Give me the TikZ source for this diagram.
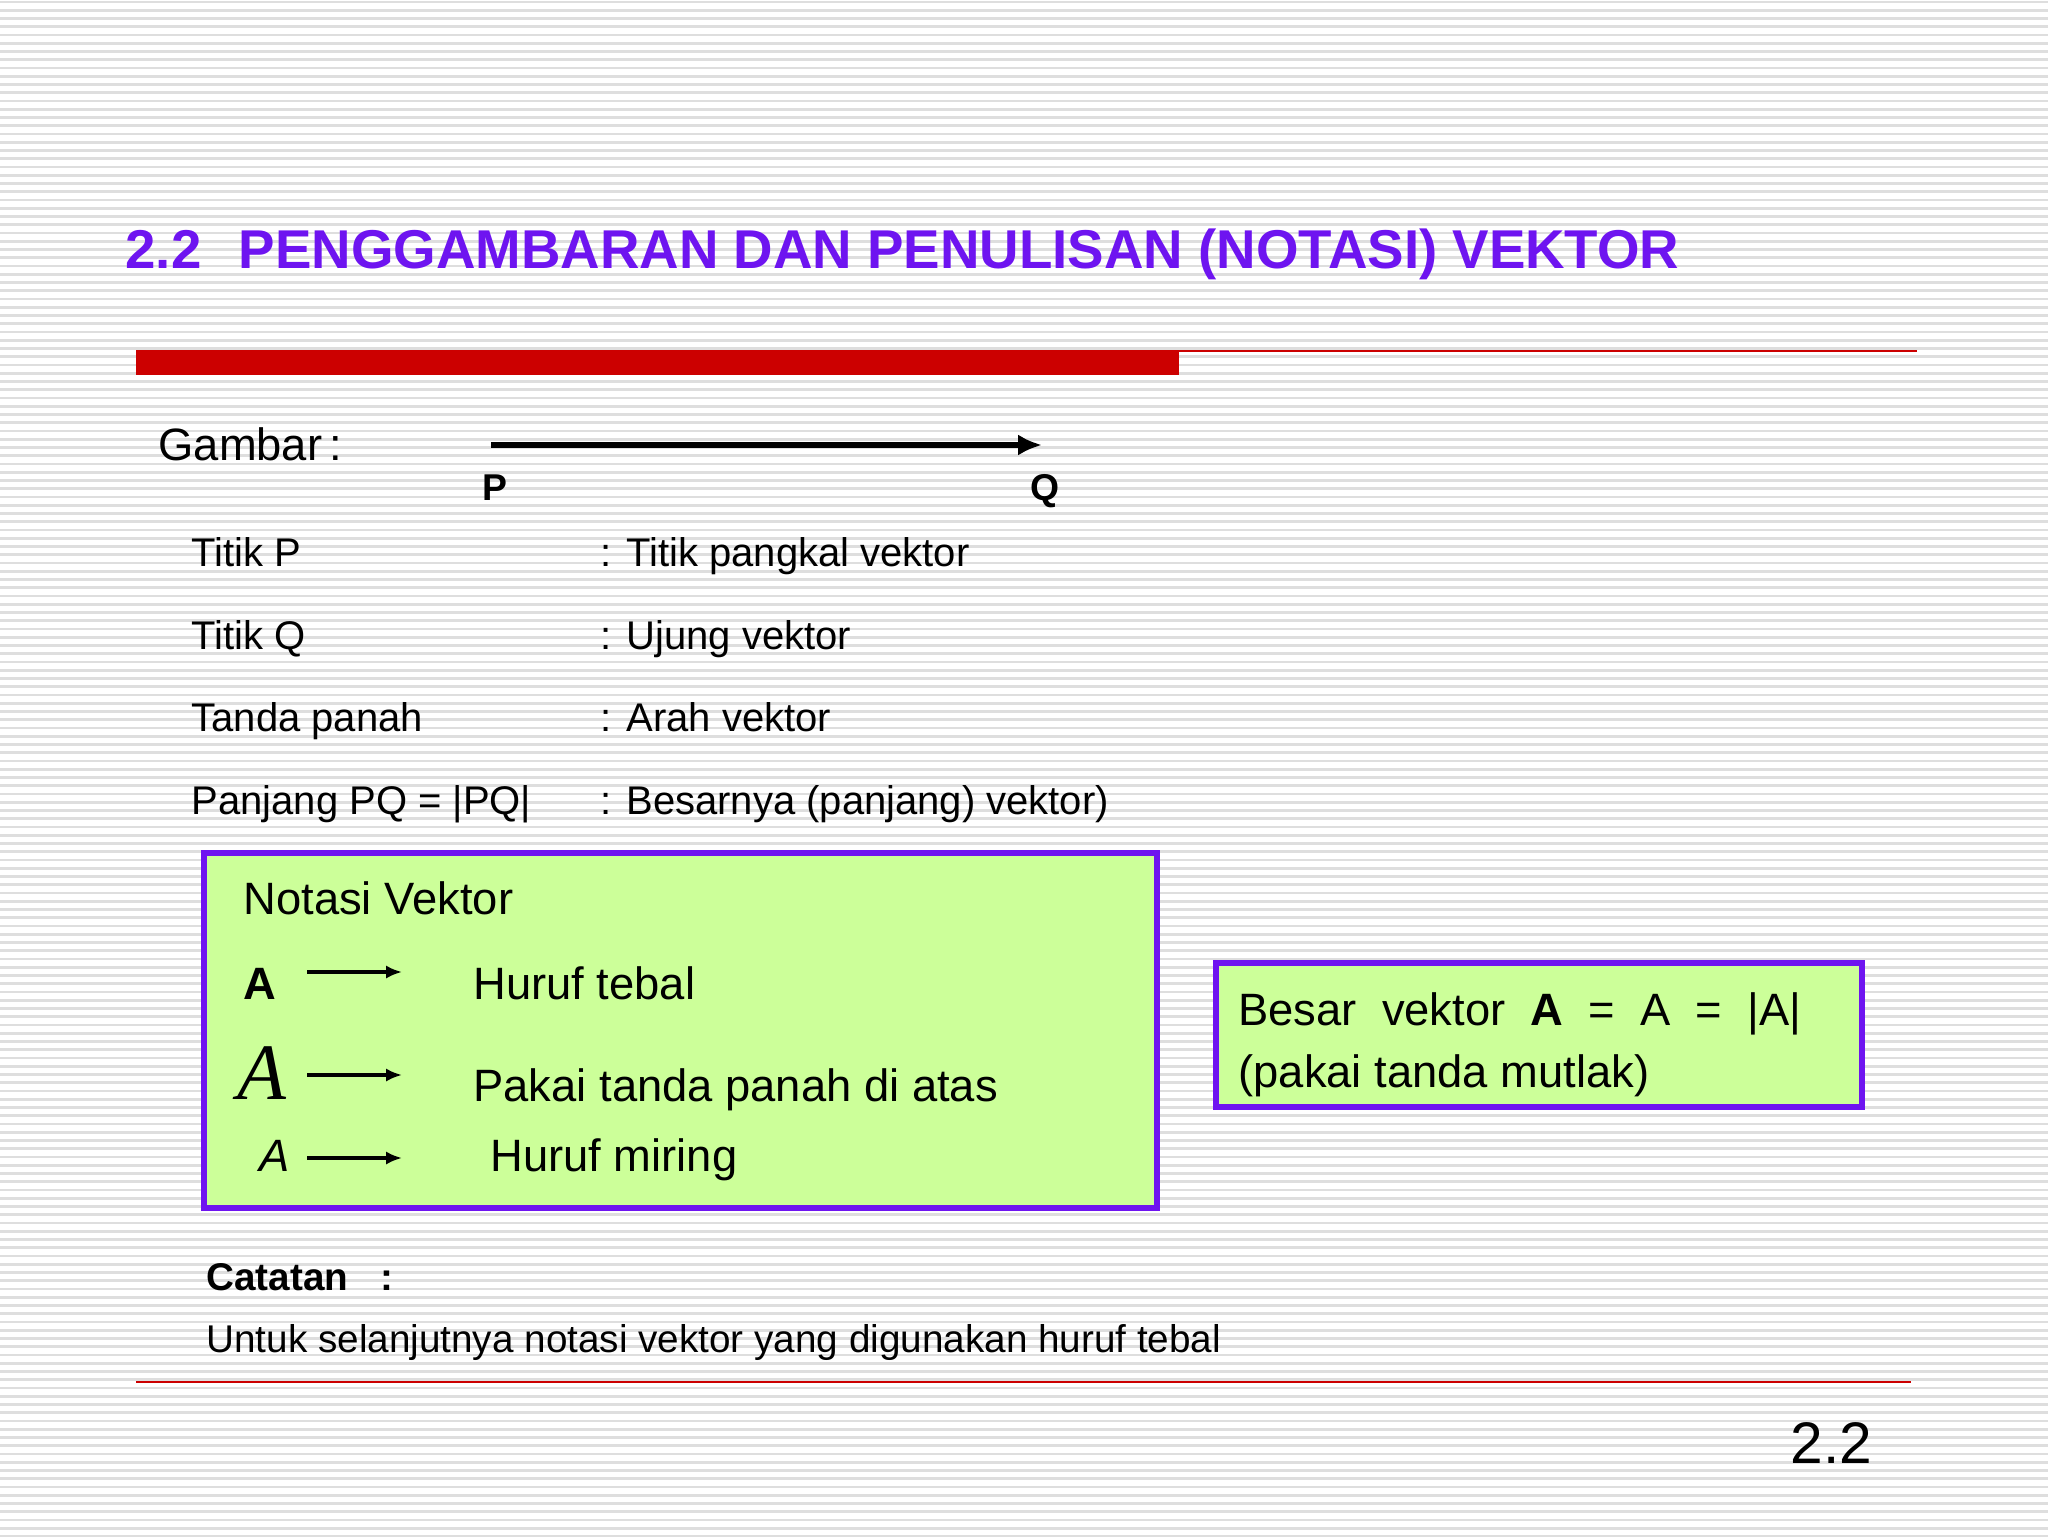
\documentclass[tikz,border=0pt]{standalone}
\usepackage{fontspec}
\usetikzlibrary{arrows.meta}
\setmainfont{Liberation Sans}
\newfontfamily\timesf{Liberation Serif}
\definecolor{ttl}{RGB}{110,20,240}
\definecolor{redbar}{RGB}{204,0,0}
\definecolor{boxg}{RGB}{204,255,153}
\definecolor{stripe}{RGB}{222,222,222}
\begin{document}
\begin{tikzpicture}[x=0.375pt,y=-0.375pt,
  txt/.style={anchor=base west,inner sep=0pt,font=\fontsize{15}{18}\selectfont},
  vec/.style={-{Latex[length=6pt,width=5pt]},line width=1.3pt}]
\useasboundingbox (0,0) rectangle (2048,1536);
\fill[white] (0,0) rectangle (2048,1536);
\foreach \i in {0,...,186}{\draw[stripe,line width=1pt] (0,\i*8.25+2) -- (2048,\i*8.25+2);}
\node[txt,text=ttl,font=\fontsize{20.5}{24}\selectfont\bfseries] (title) at (125,268) {2.2\hspace{14pt}PENGGAMBARAN DAN PENULISAN (NOTASI) VEKTOR};
\fill[redbar] (136,350) rectangle (1179,375);
\draw[redbar,line width=0.6pt] (1179,351) -- (1917,351);
\node[txt,font=\fontsize{17}{20}\selectfont] (gb) at (158,460) {Gambar\,:};
\coordinate (p) at (491,445); \coordinate (q) at (1042,445);
\draw[-{Latex[length=9pt,width=8pt]},line width=2.4pt] (p) -- (q);
\node[txt,font=\fontsize{14}{16}\selectfont\bfseries] (P) at (482,500) {P};
\node[txt,font=\fontsize{14}{16}\selectfont\bfseries] (Q) at (1030,500) {Q};
\node[txt] (r1) at (191,566) {Titik P};
\node[txt] (r2) at (191,649) {Titik Q};
\node[txt] (r3) at (191,731) {Tanda panah};
\node[txt] (r4) at (191,814) {Panjang PQ = |PQ|};
\node[txt] (s1) at (600,566) {: Titik pangkal vektor};
\node[txt] (s2) at (600,649) {: Ujung vektor};
\node[txt] (s3) at (600,731) {: Arah vektor};
\node[txt] (s4) at (600,814) {: Besarnya (panjang) vektor)};
\draw[ttl,fill=boxg,line width=2pt] (204,853) rectangle (1157,1208);
\node[txt,font=\fontsize{17}{20}\selectfont] (nv) at (243,914) {Notasi Vektor};
\node[txt,font=\fontsize{17}{20}\selectfont\bfseries] (a1) at (243,999) {A};
\node[txt,font=\fontsize{30}{30}\selectfont\timesf\itshape] (a2) at (237,1099) {A};
\node[txt,font=\fontsize{17}{20}\selectfont\itshape] (a3) at (259,1171) {A};
\coordinate (b1) at (307,972); \coordinate (e1) at (402,972);
\coordinate (b2) at (307,1075); \coordinate (e2) at (402,1075);
\coordinate (b3) at (307,1158); \coordinate (e3) at (402,1158);
\draw[vec] (b1) -- (e1); \draw[vec] (b2) -- (e2); \draw[vec] (b3) -- (e3);
\node[txt,font=\fontsize{17}{20}\selectfont] (h1) at (473,999) {Huruf tebal};
\node[txt,font=\fontsize{17}{20}\selectfont] (h2) at (473,1101) {Pakai tanda panah di atas};
\node[txt,font=\fontsize{17}{20}\selectfont] (h3) at (490,1171) {Huruf miring};
\draw[ttl,fill=boxg,line width=2pt] (1216,963) rectangle (1862,1107);
\node[txt,font=\fontsize{17}{20}\selectfont] (bv1) at (1238,1025) {Besar\ \ vektor\ \ \textbf{A}\ \ =\ \ A\ \ =\ \ |A|};
\node[txt,font=\fontsize{17}{20}\selectfont] (bv2) at (1238,1087) {(pakai tanda mutlak)};
\node[txt,font=\fontsize{14.5}{17}\selectfont\bfseries] (ct) at (206,1290) {Catatan\ \ \ :};
\node[txt,font=\fontsize{14.5}{17}\selectfont] (un) at (206,1352) {Untuk selanjutnya notasi vektor yang digunakan huruf tebal};
\draw[redbar,line width=0.5pt] (136,1382) -- (1911,1382);
\node[anchor=base east,inner sep=0pt,font=\fontsize{22}{26}\selectfont] (pg) at (1873,1463) {2.2};
\end{tikzpicture}
\end{document}
